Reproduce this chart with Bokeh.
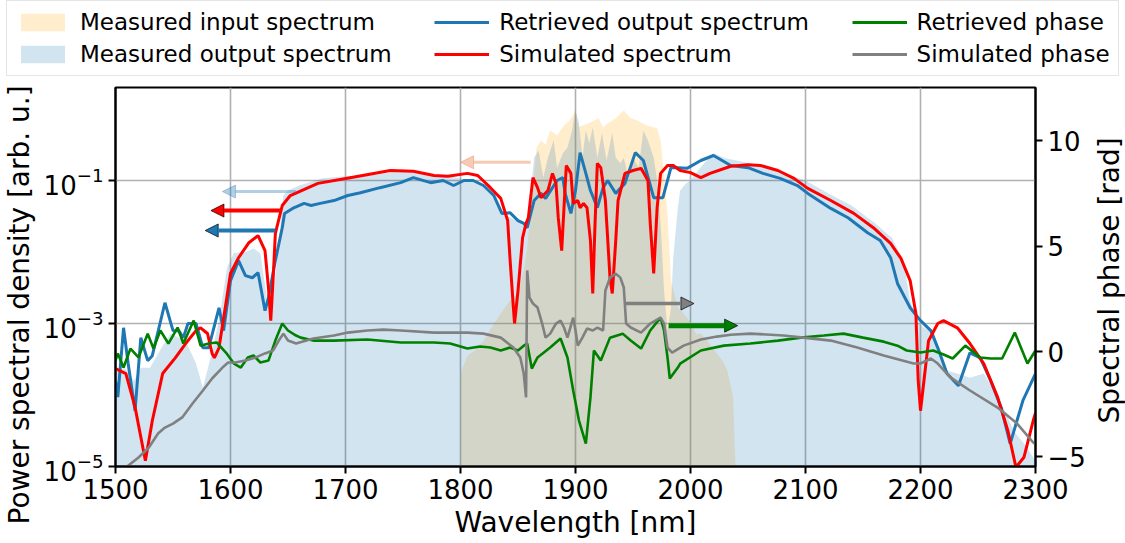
import numpy as np
from bokeh.plotting import figure
from bokeh.layouts import column, row
from bokeh.models import (Range1d, LinearAxis, LinearScale, FixedTicker, Legend,
                          LegendItem, Arrow, NormalHead, Title)
from bokeh.embed import file_html
from bokeh.resources import INLINE

# ---- measured input spectrum (wavelength in nm, log10 of PSD) ----
in_wl = [1800, 1806, 1812, 1820, 1828, 1835, 1843, 1850, 1855, 1858,
         1862, 1866, 1870, 1874, 1878, 1884, 1890, 1895, 1900, 1903,
         1906, 1913, 1920, 1924, 1928, 1935, 1942, 1948, 1954, 1962,
         1971, 1974, 1976, 1980, 1983, 1989, 1994, 2000, 2005, 2009,
         2016, 2023, 2029, 2032, 2035, 2037, 2039, 2040]
in_log = [-3.70, -3.45, -3.38, -3.24, -3.03, -2.86, -2.68, -2.58, -2.26, -1.94,
          -1.28, -0.54, -0.44, -0.50, -0.30, -0.37, -0.23, -0.16, -0.02, -0.25,
          -0.23, -0.19, -0.13, -0.26, -0.20, -0.13, -0.02, -0.13, -0.16, -0.23,
          -0.27, -0.44, -0.76, -1.46, -2.40, -2.78, -2.86, -2.98, -3.15, -3.14,
          -3.27, -3.42, -3.55, -3.66, -3.87, -4.03, -4.96, -5.50]

# ---- measured output spectrum ----
out_wl = [1500, 1508, 1516, 1522, 1530, 1540, 1548, 1555, 1562, 1570,
          1576, 1582, 1590, 1597, 1603, 1612, 1620, 1626, 1632, 1636,
          1641, 1646, 1650, 1660, 1680, 1700, 1720, 1740, 1760, 1780,
          1800, 1815, 1825, 1832, 1840, 1848, 1855, 1858, 1864, 1868,
          1872, 1876, 1881, 1884, 1889, 1893, 1897, 1900, 1903, 1906,
          1909, 1912, 1915, 1919, 1923, 1927, 1932, 1935, 1939, 1942,
          1946, 1950, 1955, 1959, 1963, 1968, 1971, 1974, 1977, 1980,
          1983, 1985, 1989, 1991, 1996, 2000, 2010, 2020, 2030, 2040,
          2060, 2080, 2100, 2120, 2140, 2160, 2175, 2185, 2191, 2197,
          2203, 2212, 2218, 2223, 2232, 2243, 2255, 2264, 2272, 2281,
          2290, 2298, 2300]
out_log = [-3.69, -3.62, -3.80, -3.62, -3.62, -3.34, -3.14, -3.20, -3.28, -3.56,
           -3.90, -3.52, -2.96, -2.22, -2.01, -2.01, -1.95, -2.02, -2.68, -2.82,
           -2.02, -1.21, -1.14, -1.07, -0.97, -0.94, -0.93, -0.89, -0.86, -0.93,
           -0.97, -1.04, -1.14, -1.35, -1.49, -1.56, -1.63, -1.66, -0.68, -0.58,
           -0.96, -0.68, -0.44, -0.82, -0.62, -0.54, -0.30, -0.02, -0.20, -0.68,
           -0.30, -0.48, -0.26, -0.68, -0.34, -0.72, -0.34, -0.68, -0.76, -0.68,
           -0.96, -0.68, -0.82, -0.30, -0.44, -0.68, -1.00, -1.60, -2.54, -3.10,
           -2.78, -2.08, -1.38, -1.14, -1.04, -1.00, -0.79, -0.62, -0.69, -0.72,
           -0.79, -0.89, -1.00, -1.18, -1.35, -1.59, -1.80, -2.12, -2.68, -2.96,
           -3.06, -3.14, -3.52, -3.66, -3.70, -3.76, -3.70, -3.94, -4.17, -4.50,
           -4.68, -4.87, -4.92]

# ---- retrieved output spectrum ----
ret_wl = [1500, 1502, 1507, 1511, 1517, 1522, 1528, 1532, 1543, 1550,
          1555, 1559, 1563, 1570, 1576, 1581, 1590, 1594, 1600, 1607,
          1613, 1619, 1624, 1630, 1633, 1639, 1645, 1647, 1654, 1664,
          1670, 1678, 1690, 1702, 1713, 1730, 1748, 1759, 1774, 1785,
          1794, 1803, 1811, 1820, 1829, 1836, 1843, 1850, 1855, 1858,
          1864, 1870, 1874, 1884, 1889, 1891, 1896, 1900, 1904, 1909,
          1913, 1919, 1924, 1928, 1935, 1943, 1952, 1959, 1968, 1976,
          1983, 1989, 1997, 2009, 2020, 2035, 2050, 2063, 2078, 2093,
          2102, 2122, 2137, 2154, 2165, 2174, 2180, 2191, 2200, 2209,
          2216, 2223, 2233, 2243, 2252, 2261, 2270, 2278, 2289, 2300]
ret_log = [-3.80, -4.03, -3.06, -3.56, -4.22, -3.20, -3.52, -3.45, -2.71, -3.10,
           -3.10, -3.20, -3.00, -3.00, -3.34, -3.34, -2.78, -3.10, -2.40, -2.12,
           -2.33, -2.36, -2.29, -2.82, -2.64, -2.12, -1.66, -1.46, -1.39, -1.32,
           -1.35, -1.32, -1.28, -1.21, -1.17, -1.10, -1.03, -0.96, -1.03, -1.00,
           -1.07, -1.00, -1.00, -1.07, -1.21, -1.46, -1.45, -1.56, -1.60, -1.66,
           -1.28, -1.18, -1.25, -1.00, -0.96, -1.18, -1.46, -1.14, -0.61, -0.90,
           -1.14, -1.38, -1.10, -1.00, -1.18, -1.04, -0.61, -0.72, -1.24, -1.24,
           -0.82, -0.82, -0.83, -0.72, -0.65, -0.79, -0.82, -0.90, -0.97, -1.07,
           -1.18, -1.39, -1.52, -1.73, -1.84, -2.08, -2.44, -2.78, -2.96, -3.10,
           -3.38, -3.70, -3.87, -3.41, -3.48, -3.80, -4.17, -4.68, -4.08, -3.70]

# ---- simulated spectrum ----
sim_wl = [1500, 1509, 1517, 1526, 1532, 1541, 1552, 1561, 1570, 1574,
          1580, 1584, 1586, 1590, 1596, 1600, 1607, 1616, 1624, 1630,
          1633, 1635, 1637, 1639, 1645, 1652, 1676, 1704, 1739, 1759,
          1777, 1789, 1806, 1815, 1826, 1835, 1841, 1843, 1846, 1847,
          1850, 1854, 1857, 1859, 1863, 1867, 1870, 1876, 1880, 1883,
          1885, 1888, 1890, 1892, 1896, 1898, 1902, 1904, 1907, 1910,
          1913, 1915, 1917, 1919, 1922, 1926, 1930, 1932, 1935, 1937,
          1943, 1950, 1957, 1963, 1965, 1968, 1971, 1974, 1980, 1985,
          1991, 2000, 2009, 2017, 2035, 2050, 2061, 2076, 2090, 2102,
          2122, 2142, 2159, 2174, 2183, 2191, 2196, 2198, 2200, 2203,
          2207, 2215, 2220, 2232, 2243, 2255, 2267, 2276, 2283, 2290,
          2298, 2300]
sim_log = [-3.63, -3.70, -4.17, -4.92, -4.36, -3.70, -3.48, -3.28, -3.10, -3.06,
           -3.14, -3.42, -3.48, -3.34, -2.72, -2.30, -2.08, -1.87, -1.77, -1.98,
           -2.50, -2.96, -2.40, -1.74, -1.35, -1.21, -1.04, -0.96, -0.86, -0.87,
           -0.93, -0.94, -0.90, -0.93, -1.10, -1.25, -1.56, -2.08, -2.78, -3.00,
           -2.54, -1.80, -1.60, -1.52, -0.96, -1.10, -1.24, -1.14, -0.90, -1.04,
           -1.52, -1.98, -1.38, -0.79, -0.90, -1.32, -1.28, -1.38, -1.32, -1.38,
           -1.84, -2.58, -1.60, -0.76, -0.82, -1.28, -2.36, -2.58, -1.84, -1.28,
           -0.90, -0.86, -0.83, -1.00, -1.60, -2.30, -1.38, -0.90, -0.79, -0.79,
           -0.86, -0.89, -0.96, -0.90, -0.80, -0.78, -0.79, -0.86, -0.97, -1.11,
           -1.28, -1.46, -1.66, -1.88, -2.09, -2.40, -2.86, -3.80, -4.22, -3.80,
           -3.24, -3.00, -2.96, -3.06, -3.28, -3.56, -4.03, -4.50, -5.01, -4.87,
           -4.36, -4.25]

# ---- retrieved phase (rad) ----
rph_wl = [1500, 1502, 1507, 1513, 1520, 1528, 1533, 1539, 1546, 1554,
          1559, 1568, 1574, 1581, 1588, 1596, 1603, 1609, 1615, 1620,
          1626, 1633, 1639, 1645, 1650, 1657, 1661, 1672, 1690, 1719,
          1748, 1777, 1791, 1806, 1817, 1826, 1835, 1843, 1850, 1855,
          1858, 1862, 1867, 1878, 1887, 1893, 1898, 1903, 1909, 1913,
          1916, 1922, 1930, 1941, 1948, 1957, 1965, 1974, 1977, 1980,
          1982, 1989, 1991, 2009, 2029, 2052, 2076, 2096, 2116, 2133,
          2150, 2168, 2180, 2188, 2200, 2211, 2220, 2228, 2239, 2252,
          2261, 2271, 2282, 2293, 2300]
rph = [-0.43, -0.09, -0.76, 0.14, -0.28, 0.85, 0.14, 1.00, 0.38, 1.14,
       0.38, 1.47, 0.28, 0.38, 0.43, -0.05, -0.57, -0.76, -0.28, -0.19,
       -0.52, -0.43, 0.52, 1.33, 1.00, 0.76, 0.66, 0.52, 0.52, 0.57,
       0.43, 0.43, 0.38, 0.14, 0.24, 0.19, 0.05, 0.19, 0.05, 0.28,
       0.38, -0.81, -0.28, 0.19, 0.62, -0.28, -1.85, -3.28, -4.37, -2.18,
       0.05, -0.43, 0.66, 0.85, 0.52, 0.14, 1.00, 1.61, 1.00, -0.28,
       -1.28, -0.76, -0.57, 0.05, 0.28, 0.38, 0.52, 0.66, 0.76, 0.85,
       0.66, 0.47, 0.28, 0.05, -0.05, 0.05, -0.14, -0.33, 0.28, -0.28,
       -0.33, -0.33, 0.90, -0.57, 0.05]

# ---- simulated phase (rad) ----
sph_wl = [1500, 1509, 1520, 1529, 1537, 1543, 1550, 1558, 1567, 1576,
          1584, 1593, 1598, 1604, 1613, 1622, 1630, 1637, 1642, 1646,
          1650, 1657, 1672, 1690, 1702, 1719, 1733, 1748, 1777, 1806,
          1820, 1835, 1846, 1852, 1855, 1857, 1858, 1860, 1863, 1867,
          1871, 1874, 1878, 1883, 1887, 1890, 1893, 1898, 1900, 1902,
          1906, 1910, 1915, 1919, 1924, 1926, 1930, 1935, 1939, 1942,
          1944, 1948, 1957, 1965, 1974, 1977, 1980, 1984, 1994, 2009,
          2023, 2035, 2052, 2081, 2098, 2122, 2145, 2168, 2194, 2200,
          2209, 2215, 2226, 2243, 2267, 2284, 2298, 2300]
sph = [-5.90, -5.51, -5.03, -4.56, -3.89, -3.61, -3.42, -3.13, -2.47, -1.85,
       -1.28, -0.76, -0.52, -0.52, -0.43, -0.28, -0.09, 0.05, 0.52, 0.85,
       0.52, 0.38, 0.62, 0.76, 0.90, 1.00, 1.04, 1.00, 0.90, 0.90,
       0.85, 0.66, 0.19, -0.28, -1.04, -2.18, 3.85, 2.56, 2.28, 2.09,
       1.33, 0.66, 0.85, 1.33, 1.47, 1.14, 0.66, 1.61, 1.00, 0.28,
       0.66, 1.09, 1.00, 1.14, 1.00, 2.90, 3.51, 3.70, 3.51, 3.04,
       1.33, 1.14, 0.90, 1.33, 1.61, 1.33, 0.19, -0.05, 0.28, 0.57,
       0.71, 0.80, 0.85, 0.76, 0.66, 0.52, 0.19, -0.19, -0.57, -0.57,
       -0.33, -0.57, -1.23, -1.85, -2.66, -3.42, -4.32, -4.40]

# axis ticks
x_ticks = [1500, 1600, 1700, 1800, 1900, 2000, 2100, 2200, 2300]
psd_ticks = [1e-5, 1e-3, 1e-1]
phase_ticks = [-5, 0, 5, 10]

# axis-pointing arrows: (x_start, x_end, y, y-axis, colour, width, alpha)
arrows = [
    (1657, 1593, 0.070, "psd", "#1f77b4", 3.0, 0.35),
    (1643, 1583, 0.038, "psd", "red", 4.0, 1.0),
    (1639, 1578, 0.020, "psd", "#1f77b4", 4.0, 1.0),
    (1861, 1800, 0.180, "psd", "#ee8a5a", 3.0, 0.45),
    (1943, 2003, 2.28, "phase", "gray", 3.5, 1.0),
    (1981, 2041, 1.23, "phase", "green", 5.0, 1.0),
]

FONT = "DejaVu Sans"
BLUE = "#1f77b4"
ROW_H = 465

# ---------------- main plot ----------------
p = figure(width=1055, height=ROW_H, x_range=Range1d(1500, 2300),
           y_range=Range1d(1e-5, 2.0), y_axis_type="log",
           output_backend="svg", toolbar_location=None,
           min_border_left=79, min_border_right=56,
           min_border_top=9, min_border_bottom=77)
p.extra_y_ranges = {"phase": Range1d(-5.46, 12.54)}
p.extra_y_scales = {"phase": LinearScale()}
p.outline_line_color = "black"
p.outline_line_width = 2

r_in = p.varea(x=in_wl, y1=1e-7, y2=10.0 ** np.array(in_log),
               fill_color="orange", fill_alpha=0.2)
r_out = p.varea(x=out_wl, y1=1e-7, y2=10.0 ** np.array(out_log),
                fill_color=BLUE, fill_alpha=0.2)
r_ret = p.line(ret_wl, 10.0 ** np.array(ret_log), line_color=BLUE, line_width=3)
r_sim = p.line(sim_wl, 10.0 ** np.array(sim_log), line_color="red", line_width=3)
r_rph = p.line(rph_wl, rph, y_range_name="phase", line_color="green", line_width=2.6)
r_sph = p.line(sph_wl, sph, y_range_name="phase", line_color="gray", line_width=2.6)

for xs, xe, y, ax, col, w, a in arrows:
    kw = {"y_range_name": "phase"} if ax == "phase" else {}
    head = NormalHead(size=13, fill_color=col, fill_alpha=a,
                      line_color="black" if a == 1.0 else col,
                      line_alpha=0.7 if a == 1.0 else a, line_width=1)
    p.add_layout(Arrow(end=head, x_start=xs, y_start=y, x_end=xe, y_end=y,
                       line_color=col, line_width=w, line_alpha=a, **kw))

p.xaxis.ticker = FixedTicker(ticks=x_ticks)
p.yaxis.ticker = FixedTicker(ticks=psd_ticks, minor_ticks=[])
p.xaxis.axis_label = "Wavelength [nm]"

right = LinearAxis(y_range_name="phase", ticker=FixedTicker(ticks=phase_ticks))
p.add_layout(right, "right")

for ax in [p.xaxis[0], p.yaxis[0], right]:
    ax.axis_line_color = "black"
    ax.axis_line_width = 2
    ax.major_tick_line_width = 2
    ax.major_tick_line_color = "black"
    ax.major_tick_out = 7
    ax.major_tick_in = 0
    ax.minor_tick_line_color = None
    ax.major_label_text_font = FONT
    ax.major_label_text_font_size = "26px"
    ax.major_label_text_color = "black"
    ax.major_label_standoff = 5
    ax.axis_label_text_font = FONT
    ax.axis_label_text_font_size = "28px"
    ax.axis_label_text_font_style = "normal"
    ax.axis_label_text_color = "black"
    ax.axis_label_standoff = 4

p.xgrid.ticker = FixedTicker(ticks=x_ticks)
p.ygrid.ticker = FixedTicker(ticks=psd_ticks)
for g in [p.xgrid[0], p.ygrid[0]]:
    g.grid_line_color = "#b0b0b0"
    g.grid_line_width = 1.6


def title_strip(text, width, start_offset):
    """Narrow figure carrying one vertical (bottom-to-top) axis title.

    In a row the strip's frame lines up with the main frame, so the title is
    anchored at the frame bottom and shifted by ``start_offset`` pixels.
    """
    f = figure(width=width, height=ROW_H, x_range=Range1d(0, 1), y_range=Range1d(0, 1),
               x_axis_type=None, y_axis_type=None, output_backend="svg",
               toolbar_location=None, min_border=0, outline_line_color=None)
    f.add_layout(Title(text=text, align="left", offset=start_offset, standoff=0,
                       text_font=FONT, text_font_size="28px",
                       text_font_style="normal", text_color="black"), "left")
    return f


left_title = title_strip("Power spectral density [arb. u.]", 36, -58)
right_title = title_strip("Spectral phase [rad]", 34, 43)

# ---------------- legend strip ----------------
top = figure(width=1125, height=78, x_range=Range1d(0, 1), y_range=Range1d(0, 1),
             x_axis_type=None, y_axis_type=None, output_backend="svg",
             toolbar_location=None, min_border=0, outline_line_color=None)
off = [-10, -9]  # keys sit outside the visible range; only their legend swatches show
k_in = top.varea(x=off, y1=off, y2=off, fill_color="orange", fill_alpha=0.2)
k_out = top.varea(x=off, y1=off, y2=off, fill_color=BLUE, fill_alpha=0.2)
k_ret = top.line(x=off, y=off, line_color=BLUE, line_width=3)
k_sim = top.line(x=off, y=off, line_color="red", line_width=3)
k_rph = top.line(x=off, y=off, line_color="green", line_width=3)
k_sph = top.line(x=off, y=off, line_color="gray", line_width=3)

legend = Legend(items=[
    LegendItem(label="Measured input spectrum", renderers=[k_in]),
    LegendItem(label="Measured output spectrum     ", renderers=[k_out]),
    LegendItem(label="Retrieved output spectrum     ", renderers=[k_ret]),
    LegendItem(label="Simulated spectrum", renderers=[k_sim]),
    LegendItem(label="Retrieved phase", renderers=[k_rph]),
    LegendItem(label="Simulated phase", renderers=[k_sph]),
], location=(6, 2), ncols=3, orientation="vertical")
legend.label_text_font = FONT
legend.label_text_font_size = "23px"
legend.label_text_color = "black"
legend.glyph_width = 55
legend.glyph_height = 22
legend.label_standoff = 10
legend.spacing = 6
legend.padding = 8
legend.margin = 0
legend.border_line_color = "#cccccc"
legend.border_line_width = 1.5
legend.background_fill_alpha = 0.8
top.add_layout(legend)

layout = column(top, row(left_title, p, right_title, spacing=0), spacing=0)
open("out.html", "w").write(file_html(layout, INLINE))
